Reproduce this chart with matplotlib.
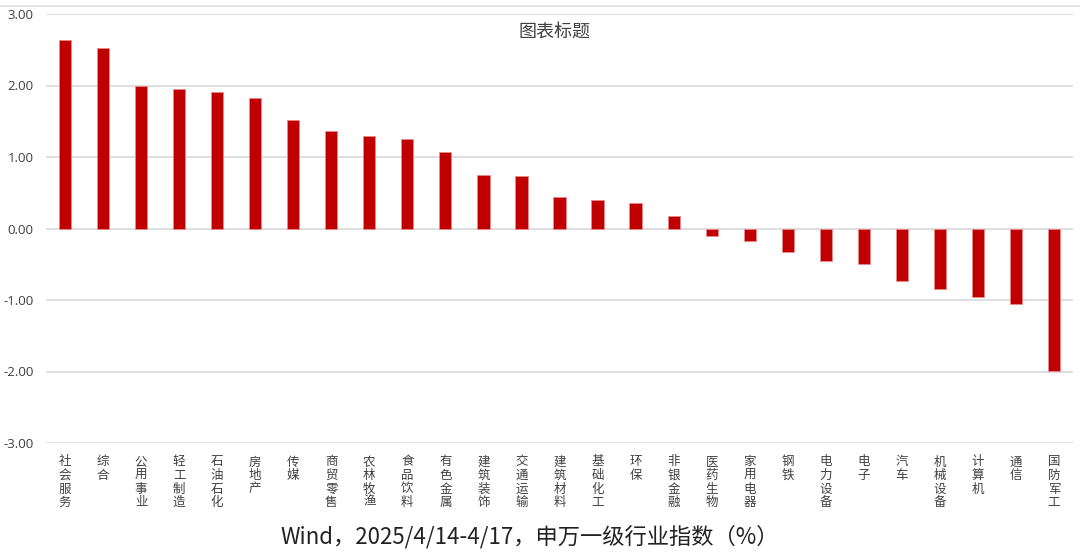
import matplotlib
matplotlib.use("Agg")
import matplotlib.pyplot as plt
from matplotlib.lines import Line2D

plt.rcParams['font.family'] = ['Noto Sans CJK SC', 'DejaVu Sans']

categories = ["社会服务", "综合", "公用事业", "轻工制造", "石油石化", "房地产", "传媒", "商贸零售",
              "农林牧渔", "食品饮料", "有色金属", "建筑装饰", "交通运输", "建筑材料", "基础化工", "环保",
              "非银金融", "医药生物", "家用电器", "钢铁", "电力设备", "电子", "汽车", "机械设备",
              "计算机", "通信", "国防军工"]
values = [2.64, 2.52, 1.99, 1.95, 1.91, 1.83, 1.52, 1.36,
          1.29, 1.25, 1.07, 0.75, 0.74, 0.44, 0.40, 0.36,
          0.17, -0.10, -0.17, -0.33, -0.46, -0.50, -0.73, -0.84,
          -0.96, -1.05, -1.99]
yticks = [3.0, 2.0, 1.0, 0.0, -1.0, -2.0, -3.0]
title = "图表标题"
footer = "Wind，2025/4/14-4/17，申万一级行业指数（%）"

fig = plt.figure(figsize=(10.8, 5.52), dpi=100)
ax = fig.add_axes([46/1080, 1-443/552, (1073-46)/1080, (443-14)/552])

x = list(range(len(categories)))
ax.bar(x, values, width=0.32, color="#c00000", edgecolor="#e58a8a", linewidth=0.6, zorder=3)

ax.set_xlim(-0.5, len(categories) - 0.5)
ax.set_ylim(-3, 3)
ax.set_yticks(yticks)
ax.set_yticklabels([f"{v:.2f}" for v in yticks], fontsize=9.5, color="#404040",
                   family=['Open Sans', 'DejaVu Sans'])
ax.yaxis.grid(True, color="#d9d9d9", linewidth=1.2, zorder=0)
ax.set_axisbelow(True)
for s in ax.spines.values():
    s.set_visible(False)
ax.tick_params(axis='y', length=0, pad=9)
ax.tick_params(axis='x', length=0, pad=9)

ax.set_xticks(x)
ax.set_xticklabels(["\n".join(c) for c in categories], fontsize=9, color="#404040",
                   linespacing=1.05, va='top')

fig.text(555/1080, 1-33/552, title, ha='center', va='center', fontsize=13, color="#404040")
fig.text(530/1080, 1-537/552, footer, ha='center', va='center', fontsize=16, color="#222222")

fig.add_artist(Line2D([0, 1], [1-5.5/552, 1-5.5/552], transform=fig.transFigure,
                      color="#e0e0e0", linewidth=1.2))

fig.savefig("out.png", dpi=100)
